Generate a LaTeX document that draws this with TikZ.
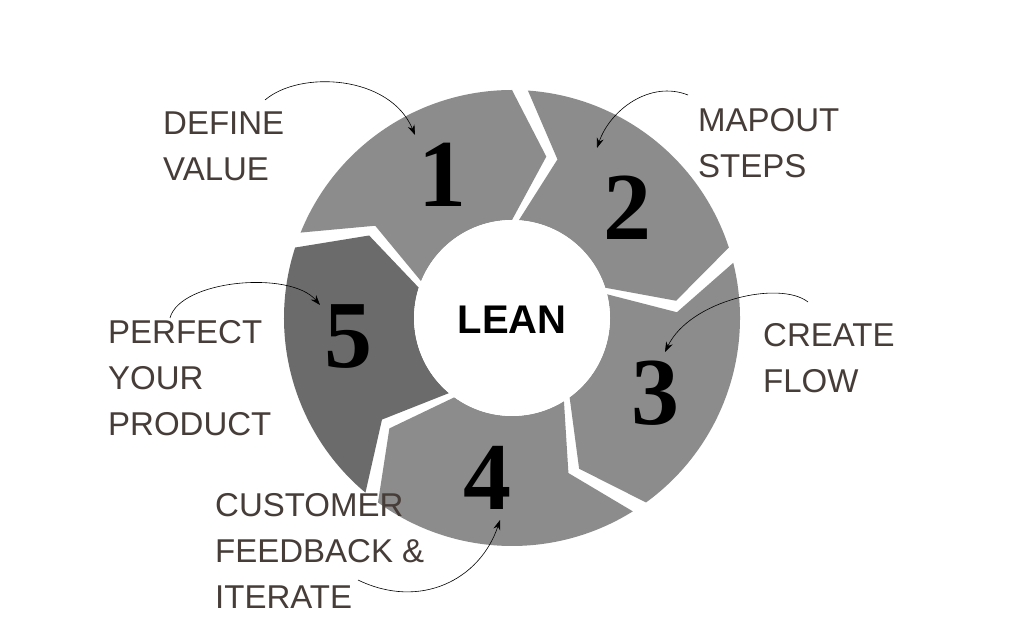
\documentclass[tikz,border=0pt]{standalone}
\usepackage{fontspec}
\setmainfont{Liberation Serif}
\setsansfont{Liberation Sans}
\usetikzlibrary{arrows.meta}
\definecolor{segA}{HTML}{8C8C8C}
\definecolor{segB}{HTML}{6B6B6B}
\definecolor{lbl}{HTML}{463C38}
\begin{document}
\begin{tikzpicture}[x=1pt,y=1pt,
 lab/.style={font=\sffamily\fontsize{33}{46}\selectfont,text=lbl,align=left,anchor=north west,inner sep=0pt},
 num/.style={font=\rmfamily\bfseries\fontsize{96}{96}\selectfont},
 curv/.style={semithick,-{Stealth[length=10pt,width=7pt]}}]
\useasboundingbox (0,0) rectangle (1015,-644);
\fill[white] (0,0) rectangle (1015,-644);
\begin{scope}[shift={(512,-318)}]
\foreach \s/\c/\n in {160/segA/1,88/segA/2,16/segA/3,-56/segA/4,-128/segB/5}{
 \pgfmathsetmacro\e{\s-72}
 \pgfmathsetmacro\ga{\s-2}
 \pgfmathsetmacro\gb{\e+2}
 \pgfmathsetmacro\ta{\e-12+2}
 \pgfmathsetmacro\tb{\s-12-2}
 \fill[\c] (\ga:228) arc[start angle=\ga,end angle=\gb,radius=228] -- (\ta:165) -- (\gb:98) arc[start angle=\gb,end angle=\ga,radius=98] -- (\tb:165) -- cycle;
}
\node[circle,fill=white,minimum size=196pt] (c) at (0,0) {};
\end{scope}
\node[font=\sffamily\bfseries\fontsize{40}{40}\selectfont] (lean) at (512,-320) {LEAN};
\node[num] (n1) at (442,-175) {1};
\node[num] (n2) at (627,-208) {2};
\node[num] (n3) at (655,-393) {3};
\node[num] (n4) at (487,-478) {4};
\node[num] (n5) at (348,-337) {5};
\node[lab] (l1) at (163,-112) {DEFINE\\VALUE};
\node[lab] (l2) at (698,-108) {MAPOUT\\STEPS};
\node[lab] (l3) at (763,-323) {CREATE\\FLOW};
\node[lab] (l5) at (108,-320) {PERFECT\\YOUR\\PRODUCT};
\node[lab] (l4) at (215,-493) {CUSTOMER\\FEEDBACK \&\\ITERATE};
\coordinate (a1s) at (265,-100); \coordinate (a1e) at (415,-135);
\coordinate (a2s) at (688,-95); \coordinate (a2e) at (597,-148);
\coordinate (a3s) at (808,-302); \coordinate (a3e) at (665,-352);
\coordinate (a5s) at (170,-318); \coordinate (a5e) at (320,-305);
\coordinate (a4s) at (358,-580); \coordinate (a4e) at (500,-520);
\draw[curv] (a1s) .. controls (300,-70) and (390,-75) .. (a1e);
\draw[curv] (a2s) .. controls (650,-80) and (610,-110) .. (a2e);
\draw[curv] (a3s) .. controls (780,-280) and (690,-300) .. (a3e);
\draw[curv] (a5s) .. controls (180,-280) and (290,-270) .. (a5e);
\draw[curv] (a4s) .. controls (420,-610) and (480,-580) .. (a4e);
\end{tikzpicture}
\end{document}
